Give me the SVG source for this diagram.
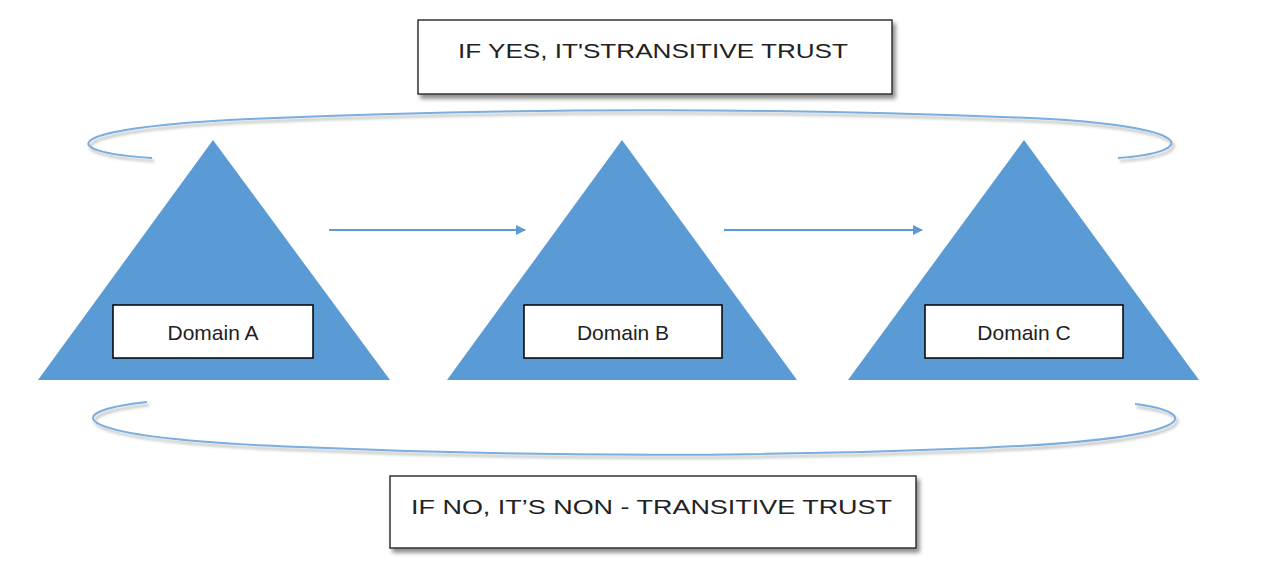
<svg xmlns="http://www.w3.org/2000/svg" width="1278" height="568" viewBox="0 0 1278 568">
<defs>
<filter id="sh" x="-10%" y="-20%" width="130%" height="150%"><feDropShadow dx="3" dy="4" stdDeviation="2" flood-color="#000" flood-opacity="0.45"/></filter>
<filter id="ls" x="-5%" y="-50%" width="110%" height="200%"><feDropShadow dx="2" dy="3" stdDeviation="1.5" flood-color="#000" flood-opacity="0.3"/></filter>
<marker id="ar" viewBox="0 0 10 10" refX="9" refY="5" markerWidth="5" markerHeight="5" orient="auto"><path d="M0,0 L10,5 L0,10 z" fill="#5b9bd5"/></marker>
<style>
.tri{fill:#5b9bd5}
.lbl{fill:#fff;stroke:#000;stroke-width:1.5}
.box{fill:#fff;stroke:#333;stroke-width:1.5}
.t{font-family:"Liberation Sans",Arial,sans-serif;fill:#222}
.cur{fill:none;stroke:#7aaede;stroke-width:2}
.arr{stroke:#5b9bd5;stroke-width:2;fill:none}
</style>
</defs>
<rect width="1278" height="568" fill="#fff"/>
<g id="connectors">
<path class="cur" filter="url(#ls)" d="M152,158 C55,152 55,128 250,119 Q640,102 1030,118 C1200,126 1200,152 1118,158"/>
<path class="cur" filter="url(#ls)" d="M147,402 C55,412 65,438 300,447 Q640,462 980,448 C1210,438 1200,412 1135,404"/>
<path class="arr" d="M329,230 L525,230" marker-end="url(#ar)"/>
<path class="arr" d="M724,230 L922,230" marker-end="url(#ar)"/>
</g>
<g id="yes"><rect class="box" filter="url(#sh)" x="418" y="20" width="474" height="74"/>
<text class="t" x="458" y="58" font-size="21" textLength="390" lengthAdjust="spacingAndGlyphs">IF YES, IT'STRANSITIVE TRUST</text></g>
<g id="no"><rect class="box" filter="url(#sh)" x="390" y="476" width="526" height="72"/>
<text class="t" x="411" y="514" font-size="21" textLength="481" lengthAdjust="spacingAndGlyphs">IF NO, IT’S NON - TRANSITIVE TRUST</text></g>
<g id="domainA"><polygon class="tri" points="213,140 390,380 38,380"/>
<rect class="lbl" x="113" y="305" width="200" height="53"/>
<text class="t" x="213" y="340" font-size="21" text-anchor="middle">Domain A</text></g>
<g id="domainB"><polygon class="tri" points="622,140 797,380 447,380"/>
<rect class="lbl" x="524" y="305" width="198" height="53"/>
<text class="t" x="623" y="340" font-size="21" text-anchor="middle">Domain B</text></g>
<g id="domainC"><polygon class="tri" points="1024,140 1199,380 848,380"/>
<rect class="lbl" x="925" y="305" width="198" height="53"/>
<text class="t" x="1024" y="340" font-size="21" text-anchor="middle">Domain C</text></g>
</svg>
